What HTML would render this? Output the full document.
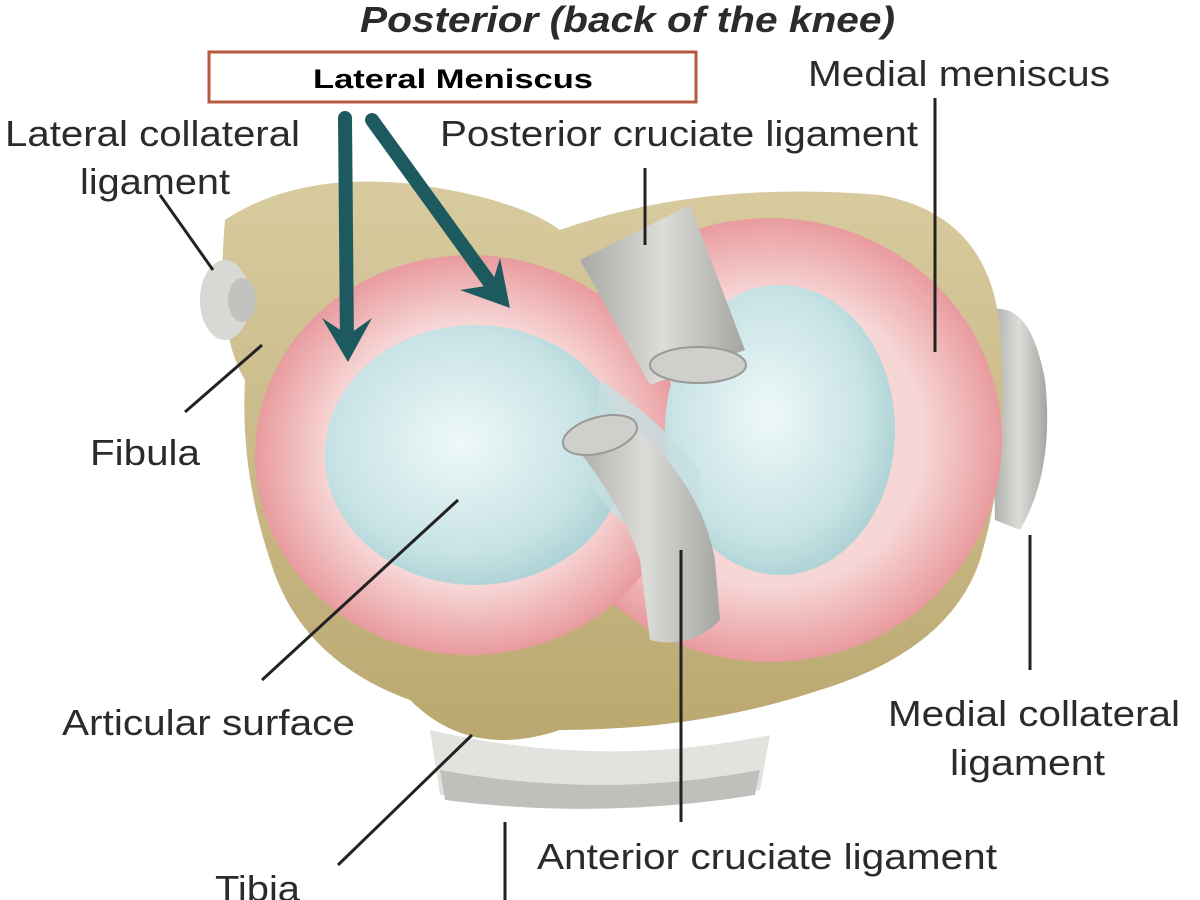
<!DOCTYPE html>
<html><head><meta charset="utf-8"><style>
html,body{margin:0;padding:0;background:#fff;width:1200px;height:900px;overflow:hidden}
svg{display:block}
text{font-family:"Liberation Sans",sans-serif;fill:#2b2b2b}
</style></head><body>
<svg width="1200" height="900" viewBox="0 0 1200 900" xmlns="http://www.w3.org/2000/svg">
<defs>
<radialGradient id="blue" cx="0.45" cy="0.45" r="0.6"><stop offset="0" stop-color="#eef8f8"/><stop offset="0.7" stop-color="#c8e3e5"/><stop offset="1" stop-color="#a9cfd2"/></radialGradient>
<radialGradient id="pink" cx="0.5" cy="0.5" r="0.55"><stop offset="0.6" stop-color="#f7d6d6"/><stop offset="1" stop-color="#e48a8e"/></radialGradient>
<linearGradient id="tan" x1="0" y1="0" x2="0" y2="1"><stop offset="0" stop-color="#d8cb9f"/><stop offset="1" stop-color="#bba870"/></linearGradient>
<linearGradient id="gray" x1="0" y1="0" x2="1" y2="0"><stop offset="0" stop-color="#a9a9a6"/><stop offset="0.5" stop-color="#dcdcd8"/><stop offset="1" stop-color="#a5a5a2"/></linearGradient>
</defs>
<path d="M430 730 Q600 770 770 735 L760 790 Q600 815 440 795 Z" fill="#e2e2df"/>
<path d="M440 770 Q600 800 760 770 L755 795 Q600 820 445 800 Z" fill="#bfbfbc"/>
<path d="M990 310 Q1030 300 1045 380 Q1055 470 1020 530 L995 520 Z" fill="url(#gray)"/>
<path d="M225 220 Q300 170 420 185 Q520 200 560 230 Q700 180 880 195 Q990 215 1000 330 Q1010 460 980 560 Q950 650 820 690 Q700 730 560 730 Q470 760 410 700 Q300 660 270 560 Q240 470 245 380 Q215 330 225 220 Z" fill="url(#tan)"/>
<ellipse cx="225" cy="300" rx="25" ry="40" fill="#d8d8d4"/>
<ellipse cx="242" cy="300" rx="14" ry="22" fill="#c2c2be"/>
<ellipse cx="770" cy="440" rx="232" ry="222" fill="url(#pink)"/>
<ellipse cx="470" cy="455" rx="215" ry="200" fill="url(#pink)"/>
<ellipse cx="475" cy="455" rx="150" ry="130" fill="url(#blue)"/>
<ellipse cx="780" cy="430" rx="115" ry="145" fill="url(#blue)"/>
<path d="M600 380 Q660 420 700 470 L700 560 Q620 540 590 480 Z" fill="#c6dfe1" opacity="0.8"/>
<path d="M580 260 L690 205 L745 350 L650 385 Z" fill="url(#gray)"/>
<ellipse cx="698" cy="365" rx="48" ry="18" fill="#cfcfcb" stroke="#999" stroke-width="2"/>
<path d="M570 440 L630 425 Q700 480 715 560 L720 620 Q690 650 650 640 L640 560 Q620 500 570 440 Z" fill="url(#gray)"/>
<ellipse cx="600" cy="435" rx="38" ry="18" fill="#cfcfcb" stroke="#999" stroke-width="2" transform="rotate(-15 600 435)"/>
<g stroke="#222" stroke-width="3" fill="none">
<line x1="160" y1="195" x2="213" y2="270"/>
<line x1="185" y1="412" x2="262" y2="345"/>
<line x1="645" y1="168" x2="645" y2="245"/>
<line x1="935" y1="98" x2="935" y2="352"/>
<line x1="1030" y1="535" x2="1030" y2="670"/>
<line x1="262" y1="680" x2="458" y2="500"/>
<line x1="338" y1="865" x2="472" y2="735"/>
<line x1="681" y1="550" x2="681" y2="822"/>
<line x1="505" y1="822" x2="505" y2="900"/>
</g>
<g stroke="#1d5a5f" stroke-width="14" fill="none" stroke-linecap="round">
<line x1="345" y1="118" x2="347" y2="345"/>
<line x1="372" y1="120" x2="495" y2="290"/>
</g>
<path d="M322 318 L348 362 L372 318 L348 335 Z" fill="#1d5a5f"/>
<path d="M460 290 L510 308 L500 258 L492 285 Z" fill="#1d5a5f"/>
<rect x="209" y="52" width="487" height="50" fill="#fff" stroke="#b45840" stroke-width="3"/>
<text x="313" y="88" font-size="27" font-weight="bold" textLength="280" lengthAdjust="spacingAndGlyphs" style="fill:#000">Lateral Meniscus</text>
<g font-size="36">
<text x="360" y="32" font-weight="bold" font-style="italic" textLength="535" lengthAdjust="spacingAndGlyphs">Posterior (back of the knee)</text>
<text x="808" y="86" textLength="302" lengthAdjust="spacingAndGlyphs">Medial meniscus</text>
<text x="5" y="146" textLength="295" lengthAdjust="spacingAndGlyphs">Lateral collateral</text>
<text x="80" y="194" textLength="150" lengthAdjust="spacingAndGlyphs">ligament</text>
<text x="440" y="146" textLength="478" lengthAdjust="spacingAndGlyphs">Posterior cruciate ligament</text>
<text x="90" y="465" textLength="110" lengthAdjust="spacingAndGlyphs">Fibula</text>
<text x="62" y="735" textLength="293" lengthAdjust="spacingAndGlyphs">Articular surface</text>
<text x="888" y="726" textLength="292" lengthAdjust="spacingAndGlyphs">Medial collateral</text>
<text x="950" y="775" textLength="155" lengthAdjust="spacingAndGlyphs">ligament</text>
<text x="537" y="869" textLength="460" lengthAdjust="spacingAndGlyphs">Anterior cruciate ligament</text>
<text x="215" y="901" textLength="85" lengthAdjust="spacingAndGlyphs">Tibia</text>
</g>
</svg>
</body></html>
